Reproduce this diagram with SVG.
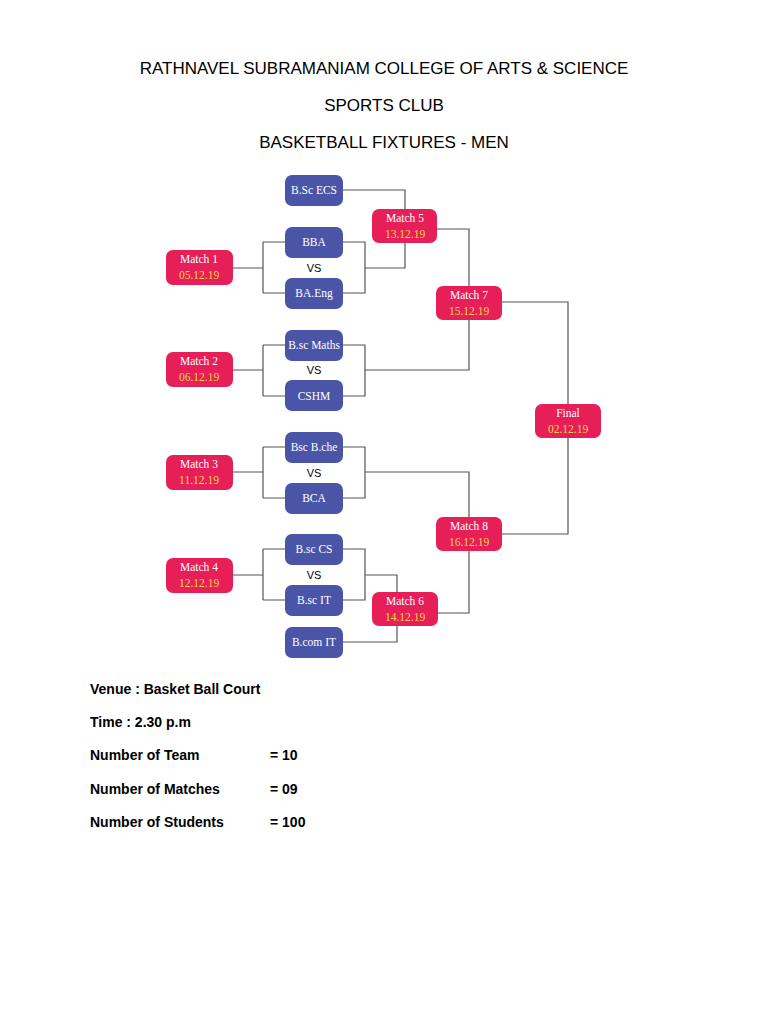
<svg xmlns="http://www.w3.org/2000/svg" width="768" height="1024" viewBox="0 0 768 1024">
<style>
.t{font-family:"Liberation Sans",Arial,sans-serif;font-size:17px;fill:#000;text-anchor:middle}
.b{font-family:"Liberation Sans",Arial,sans-serif;font-size:14px;font-weight:bold;fill:#000}
.team rect{fill:#4b55a8}
.match rect{fill:#e61f58}
.lab{font-family:"Liberation Serif","Times New Roman",serif;font-size:11.5px;fill:#fff;text-anchor:middle}
.dt{font-family:"Liberation Serif","Times New Roman",serif;font-size:11.5px;fill:#f7d24a;text-anchor:middle}
.vs{font-family:"Liberation Sans",Arial,sans-serif;font-size:11px;fill:#000;text-anchor:middle}
.c path{fill:none;stroke:#555;stroke-width:1.2}
</style>
<rect width="768" height="1024" fill="#fff"/>
<text class="t" x="384" y="74">RATHNAVEL SUBRAMANIAM COLLEGE OF ARTS &amp; SCIENCE</text>
<text class="t" x="384" y="111">SPORTS CLUB</text>
<text class="t" x="384" y="148">BASKETBALL FIXTURES - MEN</text>
<g class="c">
<path d="M233 268H263M263 242V293M263 242H285M263 293H285M343 242H365V293H343M365 268H405V243M343 190H405V209"/>
<path d="M437 229H469V286"/>
<path d="M233 370H263M263 345V396M263 345H285M263 396H285M343 345H365V396H343M365 370H469V320"/>
<path d="M502 302H568V404M568 438V534H502"/>
<path d="M233 472H263M263 447V498M263 447H285M263 498H285M343 447H365V498H343M365 472H469V517"/>
<path d="M233 575H263M263 549V600M263 549H285M263 600H285M343 549H365V600H343M365 575H397V592M343 642H397V626"/>
<path d="M438 613H469V551"/>
</g>
<g id="ecs" class="team"><rect x="285" y="175" width="58" height="31" rx="7"/><text class="lab" x="314" y="194">B.Sc ECS</text></g>
<g id="bba" class="team"><rect x="285" y="227" width="58" height="31" rx="7"/><text class="lab" x="314" y="246">BBA</text></g>
<g id="baeng" class="team"><rect x="285" y="278" width="58" height="31" rx="7"/><text class="lab" x="314" y="297">BA.Eng</text></g>
<g id="maths" class="team"><rect x="285" y="330" width="58" height="31" rx="7"/><text class="lab" x="314" y="349">B.sc Maths</text></g>
<g id="cshm" class="team"><rect x="285" y="380" width="58" height="31" rx="7"/><text class="lab" x="314" y="400">CSHM</text></g>
<g id="bche" class="team"><rect x="285" y="432" width="58" height="31" rx="7"/><text class="lab" x="314" y="451">Bsc B.che</text></g>
<g id="bca" class="team"><rect x="285" y="483" width="58" height="31" rx="7"/><text class="lab" x="314" y="502">BCA</text></g>
<g id="cs" class="team"><rect x="285" y="534" width="58" height="31" rx="7"/><text class="lab" x="314" y="553">B.sc CS</text></g>
<g id="it" class="team"><rect x="285" y="585" width="58" height="31" rx="7"/><text class="lab" x="314" y="604">B.sc  IT</text></g>
<g id="bcom" class="team"><rect x="285" y="627" width="58" height="31" rx="7"/><text class="lab" x="314" y="646">B.com IT</text></g>
<g id="vs"><text class="vs" x="314" y="272">VS</text><text class="vs" x="314" y="374">VS</text><text class="vs" x="314" y="477">VS</text><text class="vs" x="314" y="579">VS</text></g>
<g id="m1" class="match"><rect x="166" y="250" width="67" height="35" rx="7"/><text class="lab" x="199" y="263">Match 1</text><text class="dt" x="199" y="279">05.12.19</text></g>
<g id="m2" class="match"><rect x="166" y="352" width="67" height="35" rx="7"/><text class="lab" x="199" y="365">Match 2</text><text class="dt" x="199" y="381">06.12.19</text></g>
<g id="m3" class="match"><rect x="166" y="455" width="67" height="35" rx="7"/><text class="lab" x="199" y="468">Match 3</text><text class="dt" x="199" y="484">11.12.19</text></g>
<g id="m4" class="match"><rect x="166" y="558" width="67" height="35" rx="7"/><text class="lab" x="199" y="571">Match 4</text><text class="dt" x="199" y="587">12.12.19</text></g>
<g id="m5" class="match"><rect x="372" y="209" width="65" height="34" rx="7"/><text class="lab" x="405" y="222">Match 5</text><text class="dt" x="405" y="238">13.12.19</text></g>
<g id="m7" class="match"><rect x="436" y="286" width="66" height="34" rx="7"/><text class="lab" x="469" y="299">Match 7</text><text class="dt" x="469" y="315">15.12.19</text></g>
<g id="final" class="match"><rect x="535" y="404" width="66" height="34" rx="7"/><text class="lab" x="568" y="417">Final</text><text class="dt" x="568" y="433">02.12.19</text></g>
<g id="m8" class="match"><rect x="436" y="517" width="66" height="34" rx="7"/><text class="lab" x="469" y="530">Match 8</text><text class="dt" x="469" y="546">16.12.19</text></g>
<g id="m6" class="match"><rect x="372" y="592" width="66" height="34" rx="7"/><text class="lab" x="405" y="605">Match 6</text><text class="dt" x="405" y="621">14.12.19</text></g>
<text class="b" x="90" y="694">Venue : Basket Ball Court</text>
<text class="b" x="90" y="727">Time : 2.30 p.m</text>
<text class="b" x="90" y="760">Number of Team</text><text class="b" x="270" y="760">= 10</text>
<text class="b" x="90" y="794">Number of Matches</text><text class="b" x="270" y="794">= 09</text>
<text class="b" x="90" y="827">Number of Students</text><text class="b" x="270" y="827">= 100</text>
</svg>
